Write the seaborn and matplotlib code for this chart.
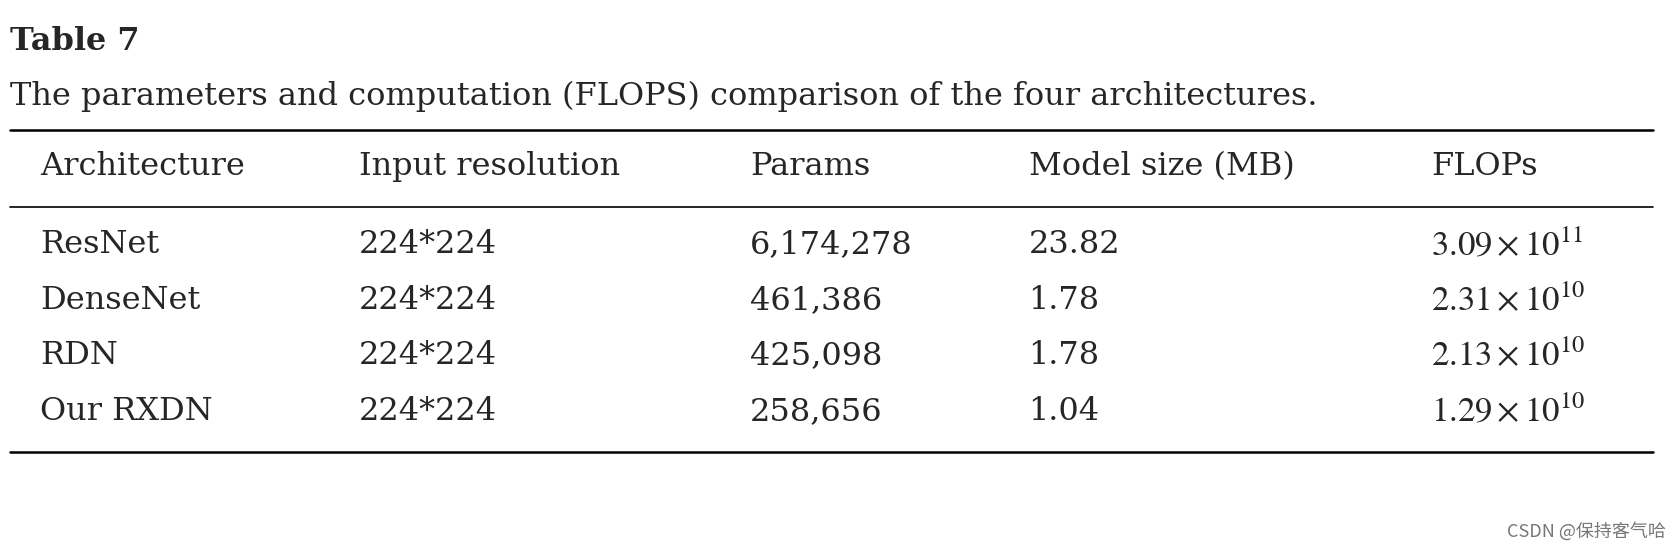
import matplotlib.pyplot as plt
import seaborn as sns

# table content
headers = ["Architecture", "Input resolution", "Params", "Model size (MB)", "FLOPs"]
architectures = ["ResNet", "DenseNet", "RDN", "Our RXDN"]
resolutions = ["224*224", "224*224", "224*224", "224*224"]
params = ["6,174,278", "461,386", "425,098", "258,656"]
model_sizes = ["23.82", "1.78", "1.78", "1.04"]
flops_mant = ["3.09", "2.31", "2.13", "1.29"]
flops_exp = ["11", "10", "10", "10"]

sns.set_theme(style="white")
plt.rcParams["font.family"] = ["DejaVu Serif"]
plt.rcParams["mathtext.fontset"] = "stix"

fig = plt.figure(figsize=(16.78, 5.48), dpi=100)
ax = fig.add_axes([0, 0, 1, 1])
ax.set_xlim(0, 1)
ax.set_ylim(1, 0)
ax.axis("off")

fs = 23
ax.text(0.006, 0.075, "Table 7", fontsize=fs, fontweight="bold", va="center")
ax.text(0.006, 0.176, "The parameters and computation (FLOPS) comparison of the four architectures.",
        fontsize=fs, va="center")

for y, lw in [(0.237, 1.8), (0.378, 1.2), (0.825, 1.8)]:
    ax.plot([0.006, 0.985], [y, y], color="black", lw=lw)

col_x = [0.024, 0.214, 0.447, 0.613, 0.853]
for x, h in zip(col_x, headers):
    ax.text(x, 0.304, h, fontsize=fs, va="center")

row_y = [0.447, 0.549, 0.649, 0.751]
for i, y in enumerate(row_y):
    flops = rf"${flops_mant[i]} \times 10^{{{flops_exp[i]}}}$"
    cells = [architectures[i], resolutions[i], params[i], model_sizes[i]]
    for x, c in zip(col_x, cells):
        ax.text(x, y, c, fontsize=fs, va="center")
    ax.text(col_x[4], y, flops, fontsize=fs + 2, va="center")

ax.text(0.993, 0.969, "CSDN @保持客气哈", fontsize=13, color="#777777", ha="right", va="center",
        family=["Noto Sans CJK SC", "DejaVu Sans"])

fig.savefig("out.png", dpi=100, facecolor="white")
